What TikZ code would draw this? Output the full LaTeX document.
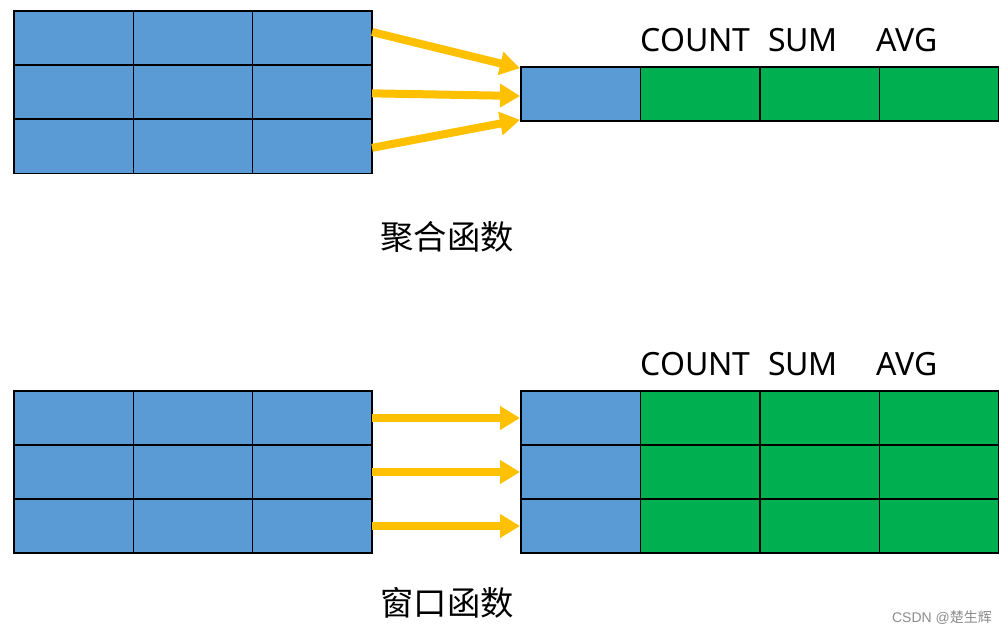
\documentclass[tikz,border=0pt]{standalone}
\usepackage{fontspec}
\setmainfont{Noto Sans}
\newfontfamily\cjk{Noto Sans CJK SC}
\newfontfamily\wmfont{Liberation Sans}
\usetikzlibrary{arrows.meta}
\definecolor{cellblue}{HTML}{5B9BD5}
\definecolor{cellgreen}{HTML}{00B050}
\definecolor{arrowyellow}{HTML}{FFC000}
\begin{document}
\begin{tikzpicture}[x=0.75pt,y=-0.75pt,
  cell/.style={draw=black, line width=1.1pt, minimum width=89.6pt, minimum height=40.7pt, inner sep=0pt, outer sep=0pt},
  bcell/.style={cell, fill=cellblue},
  gcell/.style={cell, fill=cellgreen},
  fatarrow/.style={draw=arrowyellow, line width=6pt, -{Triangle[length=15pt,width=17pt]}, shorten >=0pt},
  collabel/.style={font=\fontsize{24}{28}\selectfont, anchor=base, inner sep=0pt},
  cnlabel/.style={font=\cjk\fontsize{25}{30}\selectfont, inner sep=0pt}
]
\useasboundingbox (0,0) rectangle (1008,636);
\fill[white] (0,0) rectangle (1008,636);

% ---------- top: aggregate ----------
\foreach \r/\y in {1/38, 2/92, 3/146.5}{
  \foreach \c/\x in {1/73.7, 2/193, 3/312.3}{
    \node[bcell] (A\r\c) at (\x,\y) {};
  }
}
\node[bcell] (AR0) at (580.7,94) {};
\node[gcell] (AR1) at (700,94) {};
\node[gcell] (AR2) at (819.5,94) {};
\node[gcell] (AR3) at (939,94) {};

\node[collabel] (tc) at (695.5,51) {COUNT};
\node[collabel] (ts) at (803,51) {SUM};
\node[collabel] (ta) at (907,51) {AVG};

\draw[fatarrow] ([yshift=4.5pt]A13.east) -- ([xshift=-0.7pt,yshift=-1pt]AR0.north west);
\draw[fatarrow] ([yshift=-1pt]A23.east) -- ([xshift=-0.7pt,yshift=-1.5pt]AR0.west);
\draw[fatarrow] ([yshift=-1pt]A33.east) -- ([xshift=-0.7pt,yshift=1pt]AR0.south west);

\node[cnlabel] (agg) at (447,237) {聚合函数};

% ---------- bottom: window ----------
\foreach \r/\y in {1/418, 2/472, 3/526}{
  \foreach \c/\x in {1/73.7, 2/193, 3/312.3}{
    \node[bcell] (W\r\c) at (\x,\y) {};
  }
  \node[bcell] (WR\r0) at (580.7,\y) {};
  \node[gcell] (WR\r1) at (700,\y) {};
  \node[gcell] (WR\r2) at (819.5,\y) {};
  \node[gcell] (WR\r3) at (939,\y) {};
  \draw[fatarrow] (W\r3.east) -- ([xshift=-0.7pt]WR\r0.west);
}

\node[collabel] (bc) at (695.5,375) {COUNT};
\node[collabel] (bs) at (803,375) {SUM};
\node[collabel] (ba) at (907,375) {AVG};

\node[cnlabel] (win) at (447,603) {窗口函数};

% watermark
\node[text=black!45, inner sep=0pt, font=\fontsize{10.5}{12}\selectfont] (wm) at (942,618) {\wmfont CSDN @\cjk 楚生辉};
\end{tikzpicture}
\end{document}
